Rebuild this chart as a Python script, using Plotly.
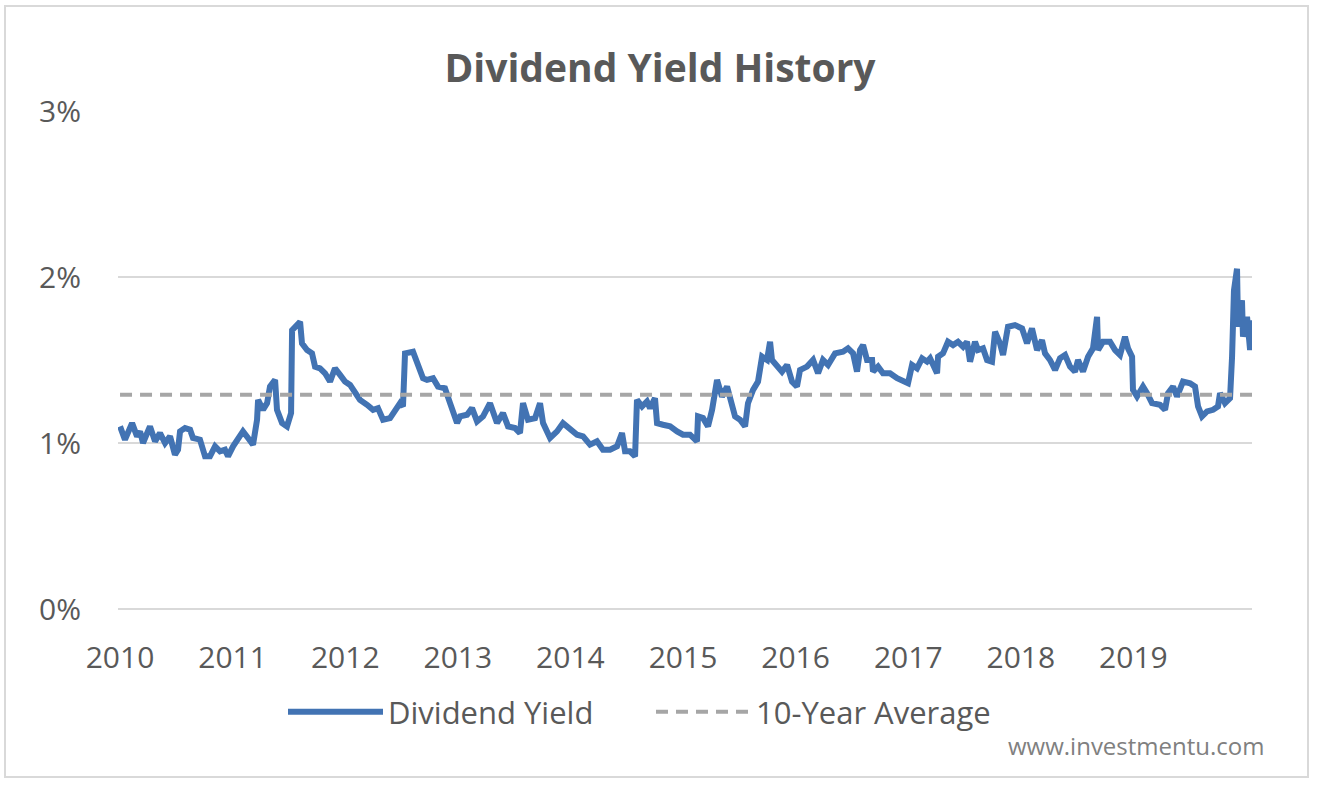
import plotly.graph_objects as go

# ---------------- data ----------------
years = [
    2010.000, 2010.044, 2010.107, 2010.151, 2010.178, 2010.204, 2010.266, 2010.311, 2010.355, 2010.400,
    2010.444, 2010.488, 2010.515, 2010.533, 2010.577, 2010.622, 2010.648, 2010.710, 2010.755, 2010.799,
    2010.844, 2010.888, 2010.932, 2010.959, 2011.004, 2011.048, 2011.092, 2011.137, 2011.181, 2011.217,
    2011.226, 2011.270, 2011.306, 2011.332, 2011.377, 2011.394, 2011.439, 2011.483, 2011.519, 2011.528,
    2011.572, 2011.599, 2011.616, 2011.661, 2011.705, 2011.732, 2011.776, 2011.821, 2011.865, 2011.909,
    2011.954, 2011.998, 2012.043, 2012.087, 2012.131, 2012.194, 2012.247, 2012.291, 2012.336, 2012.398,
    2012.442, 2012.487, 2012.513, 2012.531, 2012.602, 2012.647, 2012.691, 2012.726, 2012.780, 2012.824,
    2012.886, 2012.931, 2012.993, 2013.020, 2013.082, 2013.126, 2013.171, 2013.224, 2013.286, 2013.348,
    2013.401, 2013.446, 2013.508, 2013.552, 2013.579, 2013.623, 2013.686, 2013.730, 2013.757, 2013.819,
    2013.881, 2013.934, 2013.996, 2014.059, 2014.112, 2014.174, 2014.236, 2014.289, 2014.352, 2014.414,
    2014.458, 2014.485, 2014.529, 2014.574, 2014.591, 2014.636, 2014.680, 2014.707, 2014.751, 2014.769,
    2014.822, 2014.885, 2014.947, 2015.000, 2015.062, 2015.124, 2015.133, 2015.178, 2015.222, 2015.258,
    2015.302, 2015.346, 2015.391, 2015.435, 2015.462, 2015.506, 2015.551, 2015.577, 2015.622, 2015.666,
    2015.702, 2015.746, 2015.773, 2015.790, 2015.835, 2015.879, 2015.924, 2015.968, 2016.012, 2016.039,
    2016.101, 2016.155, 2016.199, 2016.243, 2016.288, 2016.350, 2016.421, 2016.465, 2016.510, 2016.545,
    2016.572, 2016.599, 2016.634, 2016.679, 2016.687, 2016.732, 2016.776, 2016.838, 2016.901, 2016.954,
    2016.998, 2017.034, 2017.078, 2017.123, 2017.167, 2017.194, 2017.220, 2017.256, 2017.265, 2017.309,
    2017.353, 2017.398, 2017.442, 2017.487, 2017.522, 2017.549, 2017.593, 2017.620, 2017.664, 2017.700,
    2017.744, 2017.771, 2017.815, 2017.842, 2017.886, 2017.948, 2018.011, 2018.055, 2018.099, 2018.144,
    2018.188, 2018.215, 2018.259, 2018.304, 2018.348, 2018.393, 2018.437, 2018.481, 2018.508, 2018.552,
    2018.597, 2018.641, 2018.677, 2018.686, 2018.730, 2018.792, 2018.837, 2018.881, 2018.925, 2018.952,
    2018.988, 2018.996, 2019.032, 2019.085, 2019.121, 2019.165, 2019.236, 2019.281, 2019.307, 2019.352,
    2019.387, 2019.440, 2019.503, 2019.547, 2019.574, 2019.609, 2019.654, 2019.707, 2019.751, 2019.769,
    2019.813, 2019.858, 2019.876, 2019.893, 2019.920, 2019.929, 2019.964, 2019.973, 2020.009, 2020.036,
    2020.053,
]

dividend_yield = [
    1.10, 1.02, 1.12, 1.04, 1.07, 1.00, 1.10, 1.01, 1.06, 1.00,
    1.04, 0.93, 0.96, 1.07, 1.09, 1.08, 1.03, 1.02, 0.92, 0.92,
    0.98, 0.95, 0.96, 0.92, 0.98, 1.03, 1.07, 1.03, 0.99, 1.14,
    1.26, 1.20, 1.24, 1.34, 1.38, 1.20, 1.12, 1.10, 1.18, 1.68,
    1.71, 1.73, 1.60, 1.56, 1.54, 1.46, 1.45, 1.42, 1.37, 1.45,
    1.41, 1.37, 1.35, 1.30, 1.26, 1.23, 1.20, 1.21, 1.14, 1.15,
    1.19, 1.24, 1.22, 1.54, 1.55, 1.48, 1.39, 1.38, 1.39, 1.34,
    1.33, 1.24, 1.12, 1.16, 1.17, 1.21, 1.13, 1.16, 1.24, 1.12,
    1.18, 1.10, 1.09, 1.06, 1.24, 1.14, 1.15, 1.24, 1.12, 1.03,
    1.07, 1.12, 1.08, 1.05, 1.04, 0.99, 1.01, 0.96, 0.96, 0.98,
    1.06, 0.95, 0.95, 0.92, 1.26, 1.22, 1.25, 1.21, 1.27, 1.12,
    1.11, 1.10, 1.07, 1.05, 1.05, 1.01, 1.16, 1.15, 1.10, 1.20,
    1.38, 1.28, 1.34, 1.24, 1.16, 1.14, 1.10, 1.24, 1.32, 1.37,
    1.52, 1.50, 1.61, 1.50, 1.47, 1.43, 1.47, 1.37, 1.34, 1.44,
    1.46, 1.50, 1.42, 1.50, 1.47, 1.54, 1.55, 1.57, 1.54, 1.43,
    1.56, 1.59, 1.50, 1.50, 1.43, 1.46, 1.42, 1.42, 1.39, 1.37,
    1.36, 1.47, 1.45, 1.51, 1.49, 1.51, 1.47, 1.42, 1.52, 1.54,
    1.61, 1.59, 1.61, 1.58, 1.61, 1.49, 1.61, 1.56, 1.57, 1.50,
    1.49, 1.67, 1.60, 1.53, 1.70, 1.71, 1.69, 1.60, 1.69, 1.56,
    1.62, 1.54, 1.50, 1.44, 1.51, 1.53, 1.46, 1.43, 1.50, 1.43,
    1.52, 1.57, 1.76, 1.56, 1.61, 1.61, 1.56, 1.53, 1.64, 1.57,
    1.52, 1.32, 1.28, 1.34, 1.30, 1.24, 1.23, 1.20, 1.30, 1.34,
    1.28, 1.37, 1.36, 1.34, 1.22, 1.16, 1.19, 1.20, 1.22, 1.30,
    1.24, 1.27, 1.52, 1.92, 2.05, 1.70, 1.86, 1.64, 1.76, 1.56,
    1.74,
]

ten_year_average = 1.29
tick_years = [2010, 2011, 2012, 2013, 2014, 2015, 2016, 2017, 2018, 2019]
tick_labels = ["2010", "2011", "2012", "2013", "2014", "2015", "2016", "2017", "2018", "2019"]
y_ticks = [0, 1, 2, 3]
y_tick_labels = ["0%", "1%", "2%", "3%"]

# ---------------- layout geometry ----------------
W, H = 1320, 786
PL, PR, PT, PB = 118, 1252, 111, 609  # plot area in pixels


def px_x(p):
    return (p - PL) / (PR - PL)


def px_y(p):
    return (PB - p) / (PB - PT)


FONT = "Open Sans"
TXT = "#595959"
GRID = "#d9d9d9"

fig = go.Figure()
fig.add_trace(go.Scatter(
    x=years, y=dividend_yield, mode="lines", name="Dividend Yield",
    line=dict(color="#4273b3", width=6),
))
fig.add_trace(go.Scatter(
    x=[years[0], years[-1]], y=[ten_year_average, ten_year_average],
    mode="lines", name="10-Year Average",
    line=dict(color="#a6a6a6", width=4, dash="12px,8px"),
))

fig.update_layout(
    width=W, height=H,
    margin=dict(l=PL, r=W - PR, t=PT, b=H - PB, pad=0),
    paper_bgcolor="white", plot_bgcolor="white",
    font=dict(family=FONT, color=TXT, size=30),
    title=dict(text="<b>Dividend Yield History</b>", x=0.5, xanchor="center",
               y=1 - 68 / H, yanchor="middle",
               font=dict(family=FONT, size=39, color=TXT)),
    xaxis=dict(range=[2009.982, 2020.053], tickvals=tick_years, ticktext=tick_labels,
               showgrid=False, zeroline=False, showline=False, ticks="",
               tickfont=dict(size=30, color=TXT), ticklabelstandoff=28),
    yaxis=dict(range=[0, 3], tickvals=y_ticks, ticktext=y_tick_labels,
               showgrid=True, gridcolor=GRID, gridwidth=2,
               zeroline=True, zerolinecolor=GRID, zerolinewidth=2, showline=False, ticks="",
               tickfont=dict(size=30, color=TXT), ticklabelstandoff=36),
    showlegend=True,
    legend=dict(orientation="h", x=px_x(651), xanchor="center", y=px_y(712), yanchor="middle",
                font=dict(size=31, color=TXT), itemwidth=95, entrywidth=258,
                entrywidthmode="pixels", bgcolor="rgba(0,0,0,0)"),
)

fig.add_shape(type="rect", xref="paper", yref="paper",
              x0=px_x(5), x1=px_x(1308), y0=px_y(777), y1=px_y(6),
              line=dict(color=GRID, width=2), fillcolor="rgba(0,0,0,0)", layer="below")

fig.add_annotation(text="www.investmentu.com", xref="paper", yref="paper",
                   x=px_x(1266), y=px_y(745), xanchor="right", yanchor="middle",
                   showarrow=False, font=dict(family=FONT, size=24, color="#808080"))

fig.write_html("out.html")
